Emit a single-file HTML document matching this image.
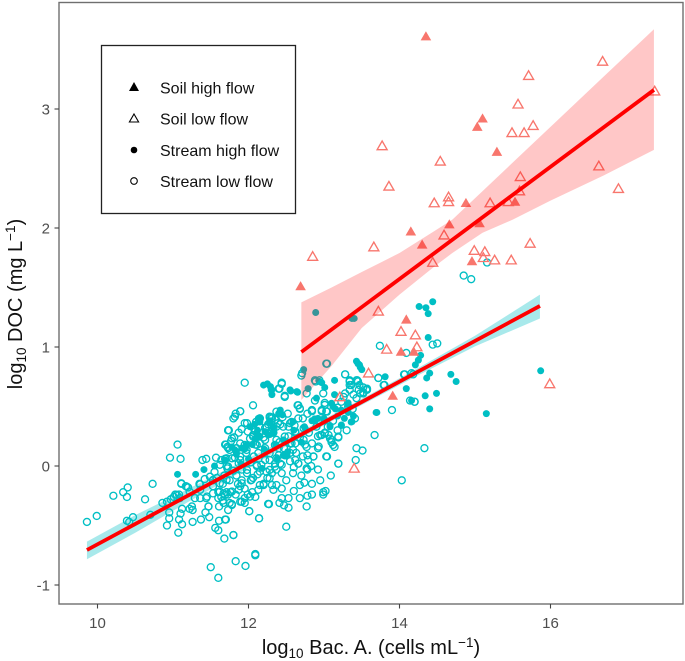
<!DOCTYPE html>
<html lang="en">
<head>
<meta charset="utf-8">
<title>DOC vs bacterial abundance</title>
<style>
html,body{margin:0;padding:0;background:#fff;}
svg{display:block;font-family:"Liberation Sans",Arial,sans-serif;}
</style>
</head>
<body>
<svg id="chart" width="685" height="661" viewBox="0 0 685 661" xmlns="http://www.w3.org/2000/svg">
  <rect x="0" y="0" width="685" height="661" fill="#fff"/>
  <g id="marks"></g>
  <g id="overlays"></g>
  <rect x="59" y="2.5" width="624" height="601.5" fill="none" stroke="#6f6f6f" stroke-width="1.4"/>
  <g id="axes"></g>
  <text x="371" y="654" text-anchor="middle" font-size="20" fill="#111">log<tspan font-size="13.500" dy="4">10</tspan><tspan dy="-4"> Bac. A. (cells mL</tspan><tspan font-size="13.500" dy="-7">−1</tspan><tspan dy="7">)</tspan></text>
  <text transform="translate(22,304) rotate(-90)" text-anchor="middle" font-size="20" fill="#111">log<tspan font-size="13.500" dy="4">10</tspan><tspan dy="-4"> DOC (mg L</tspan><tspan font-size="13.500" dy="-7">−1</tspan><tspan dy="7">)</tspan></text>
  <g>
    <rect x="101.5" y="45.5" width="194" height="168" fill="#fff" stroke="#222" stroke-width="1.3"/>
    <polygon points="134,82 139,91 129,91" fill="#000"/>
    <text x="160" y="93.500" font-size="16" fill="#111">Soil high flow</text>
    <polygon points="134,114 138.6,122 129.4,122" fill="none" stroke="#000" stroke-width="1.1"/>
    <text x="160" y="124.500" font-size="16" fill="#111">Soil low flow</text>
    <circle cx="134" cy="150" r="3.3" fill="#000"/>
    <text x="160" y="156" font-size="16" fill="#111">Stream high flow</text>
    <circle cx="134" cy="181" r="3.3" fill="none" stroke="#000" stroke-width="1.1"/>
    <text x="160" y="187" font-size="16" fill="#111">Stream low flow</text>
  </g>
</svg>
<script>
const xTicks = [10, 12, 14, 16];
const yTicks = [-1, 0, 1, 2, 3];

const soilHighFlow = [[14.35,3.61],[15.10,2.92],[15.03,2.85],[15.29,2.64],[14.88,2.21],[15.53,2.22],[12.69,1.51],[14.15,1.97],[14.66,2.03],[14.30,1.86],[15.06,2.04],[14.96,1.72],[14.09,1.23],[14.02,.96],[14.19,.96],[13.91,.59]];

const soilLowFlow = [[16.69,3.40],[15.71,3.28],[15.57,3.04],[13.77,2.69],[15.77,2.86],[15.49,2.80],[15.65,2.80],[17.38,3.15],[14.54,2.56],[16.64,2.52],[15.60,2.43],[16.90,2.33],[13.86,2.35],[15.59,2.31],[14.65,2.26],[14.65,2.22],[14.46,2.21],[15.20,2.21],[15.44,2.22],[12.85,1.76],[13.66,1.84],[14.59,1.94],[14.44,1.71],[15.73,1.87],[14.99,1.81],[15.13,1.80],[15.11,1.75],[15.26,1.73],[15.48,1.73],[13.72,1.30],[14.02,1.13],[14.21,1.10],[13.83,.98],[14.23,1.00],[13.59,.78],[15.99,.69],[13.21,.58],[13.40,-.02]];

const streamHighFlow = [[12.89,1.29],[13.37,1.24],[13.40,1.24],[14.26,1.34],[14.35,1.33],[14.44,1.38],[14.38,1.28],[14.38,1.08],[14.28,.93],[14.25,.89],[14.21,.85],[14.40,.78],[14.68,.77],[14.75,.71],[14.36,.74],[15.87,.80],[14.49,.61],[14.34,.59],[14.09,.65],[14.16,.55],[14.40,.48],[13.81,.75],[13.43,.88],[13.45,.86],[13.48,.83],[13.47,.85],[13.50,.81],[13.14,.72],[13.14,.60],[13.32,.53],[12.56,.63],[12.65,.62],[12.73,.81],[12.94,.71],[12.79,.65],[15.15,.44],[12.20,.68],[12.25,.69],[12.30,.64],[12.31,.60],[12.97,.70],[13.01,.66],[12.90,.57],[13.12,.50],[13.15,.48],[13.08,.34],[13.23,.34],[13.36,.37],[12.42,.47],[12.88,.39],[13.32,.45],[13.39,.42],[13.27,.40],[13.69,.45],[12.15,.40],[12.15,.37],[12.28,.38],[12.60,.30],[12.74,.33],[12.84,.38],[13.00,.40],[13.18,.42],[11.06,-.07],[11.30,-.07],[11.41,-.03],[11.55,.00],[11.69,.05],[11.82,.135],[11.84,.10],[11.95,.15],[12.09,.23],[12.15,.25],[12.26,.26],[12.40,.44],[12.05,.18],[12.12,.30],[12.21,.14],[12.33,.33],[12.46,.22],[12.52,.12],[12.38,.06],[12.70,.20],[11.90,.02],[12.00,.06],[12.18,-.02],[12.36,.18],[12.02,.33],[12.08,.35],[11.78,.16],[12.42,.457],[12.45,.43],[12.59,.373],[12.75,.317],[12.92,.40],[13.08,.33],[13.23,.345],[13.37,.373],[13.32,.513],[13.10,.527],[13.12,.50],[13.23,.47],[13.70,.45],[12.46,.09],[12.51,.09],[12.31,.64],[12.55,.64],[12.64,.625],[12.29,.667],[12.13,.40],[11.84,.12],[11.91,.15],[11.975,.177],[12.11,.275],[12.22,.289],[12.28,.36],[12.33,.275]];

const streamLowFlow = [[9.86,-.47],[9.99,-.42],[10.21,-.25],[10.34,-.22],[10.40,-.18],[10.39,-.26],[10.63,-.28],[10.73,-.15],[10.39,-.46],[10.42,-.47],[10.47,-.43],[10.70,-.41],[11.06,.18],[10.96,.07],[11.10,.06],[11.39,.05],[11.44,.06],[11.57,.07],[10.86,-.31],[10.92,-.30],[10.97,-.28],[11.03,-.24],[11.08,-.24],[11.11,-.15],[11.17,-.17],[11.20,-.18],[11.35,-.15],[11.29,-.27],[11.36,-.27],[11.44,-.27],[11.53,-.12],[11.53,-.17],[11.60,-.22],[11.64,-.26],[11.67,-.23],[11.73,-.24],[11.76,-.22],[11.78,-.32],[11.67,-.31],[11.61,-.34],[11.47,-.34],[11.43,-.39],[11.48,-.43],[11.37,-.45],[11.26,-.47],[11.22,-.36],[11.26,-.37],[11.12,-.36],[11.10,-.40],[11.08,-.45],[11.12,-.49],[11.07,-.56],[10.92,-.50],[10.95,-.44],[10.95,-.39],[11.61,-.46],[11.70,-.45],[11.56,-.52],[11.60,-.54],[11.68,-.61],[11.80,-.58],[11.73,-.37],[12.01,-.38],[12.14,-.44],[12.27,-.32],[11.50,-.85],[11.60,-.94],[11.83,-.80],[11.96,-.84],[12.09,-.75],[12.09,-.74],[11.95,.70],[12.06,.51],[11.89,.46],[11.83,.44],[11.80,.40],[11.95,.36],[12.15,.40],[12.14,.38],[12.30,.41],[11.74,.30],[11.81,.24],[11.70,.18],[11.73,.15],[11.77,.21],[12.44,.70],[12.41,.65],[12.48,.59],[12.65,.51],[12.68,.48],[12.84,.46],[13.01,.53],[12.97,.46],[13.03,.46],[13.28,.77],[13.03,.86],[12.71,.78],[12.70,.76],[12.88,.72],[12.94,.72],[13.34,.71],[13.43,.72],[13.36,.68],[13.34,.64],[13.39,.60],[13.43,.57],[13.52,.61],[13.56,.64],[13.72,.74],[13.79,.68],[13.74,1.01],[14.09,.95],[14.06,.77],[14.16,.78],[14.50,1.03],[14.44,1.02],[14.20,.54],[13.90,.47],[14.14,.55],[13.67,.26],[14.33,.15],[13.43,.15],[13.51,.13],[13.42,.05],[13.19,.02],[14.03,-.12],[13.09,-.08],[12.92,-.03],[13.03,.08],[13.19,.24],[13.14,.16],[13.10,.20],[13.08,.23],[13.01,.28],[12.97,.26],[12.92,.25],[12.92,.15],[12.86,.08],[12.78,.09],[12.72,.08],[12.78,-.03],[12.95,-.12],[12.84,-.15],[12.68,-.16],[12.99,-.22],[13.02,-.21],[12.99,-.24],[12.84,-.24],[12.78,-.25],[12.68,-.27],[12.77,-.34],[12.53,-.27],[12.53,-.35],[12.44,-.27],[12.41,-.31],[12.47,-.33],[12.27,-.32],[12.14,-.44],[12.50,-.51],[12.01,-.38],[11.80,-.58],[11.69,-.45],[14.85,1.60],[14.95,1.57],[15.16,1.71],[13.04,.86],[12.89,.71],[13.45,.71],[13.47,.68],[13.46,.64],[13.52,.66],[13.57,.64],[13.52,.62],[13.72,.74],[13.80,.68],[14.07,.77],[14.18,.77],[14.20,.54],[11.73,.30],[11.81,.24],[11.69,.18],[11.72,.16],[11.75,.135],[11.84,.15],[11.89,.19],[11.95,.15],[12.02,.23],[12.09,.29],[12.15,.40],[12.28,.41],[12.35,.39],[12.42,.35],[12.46,.33],[12.57,.37],[12.61,.34],[12.66,.40],[12.88,.39],[12.53,.25],[12.57,.19],[12.37,.22],[12.28,.27],[12.22,.32],[12.15,.33],[12.06,.26],[12.20,.24],[12.15,.19],[12.09,.18],[12.22,.15],[11.97,.11],[11.89,.05],[11.82,.07],[11.69,.06],[11.71,.00],[11.64,.05],[12.11,.00],[12.17,.01],[12.28,.05],[12.40,.09],[12.50,.09],[12.63,.11],[12.66,.02],[12.55,.04],[12.44,.01],[12.35,.02],[12.24,-.05],[12.31,-.06],[12.37,-.03],[12.44,-.06],[12.50,-.12],[12.59,-.06],[12.70,-.08],[12.06,-.10],[12.03,-.12],[11.91,-.12],[11.86,-.15],[11.75,-.12],[11.66,-.15],[11.89,-.17],[11.95,-.19],[11.66,-.29],[11.75,-.31],[11.89,-.30],[11.95,-.31],[12.09,-.26],[12.15,-.16],[12.20,-.15],[12.31,-.16],[12.33,-.20],[12.44,-.19],[12.60,-.21],[12.74,-.14],[12.05,-.22],[11.83,-.24],[11.80,-.04],[11.84,-.08],[11.91,-.03],[11.98,-.06],[12.03,.03],[12.07,.08],[12.13,.11],[11.99,.29],[11.91,.31],[11.87,.28],[12.10,.37],[12.26,.35],[12.33,.28],[12.41,.20],[12.47,.15],[12.55,.11],[12.62,.19],[12.68,.24],[12.75,.18],[12.80,.28],[12.45,.41],[12.52,.44],[12.72,.40],[12.78,.44],[12.92,.38],[13.05,.33],[13.12,.38],[13.18,.49],[13.23,.54],[13.26,.58],[13.32,.50],[13.38,.48],[13.41,.40],[13.30,.30],[13.18,.30],[12.90,.33],[12.62,.28],[11.62,.01],[11.55,-.05],[11.49,-.09],[11.42,-.11],[11.58,-.10],[11.68,-.08],[11.72,-.02],[12.25,-.10],[12.12,-.07],[12.83,.00],[12.60,-.01],[11.99,-.24],[11.71,-.22],[11.89,.46],[11.82,.415],[11.98,.36],[12.28,.415],[12.37,.457],[11.73,.30],[12.24,.33],[12.33,.317],[12.39,.36],[11.78,.233],[11.84,.149],[11.95,.177],[11.975,.135],[12.11,.177],[12.22,.219],[12.06,.247],[11.71,.065],[11.78,.065],[11.87,.023],[11.73,-.005],[11.89,.079],[11.98,-.033],[12.11,.009],[12.22,.05],[12.28,.107],[12.37,.065],[12.15,-.047],[12.28,-.033],[12.35,-.005],[12.04,-.117],[11.91,-.145],[11.87,-.20],[11.95,-.27],[12.02,-.257],[12.13,-.20],[12.20,-.16],[12.28,-.103],[12.37,-.16],[11.78,-.215],[11.71,-.117],[11.62,-.145],[11.53,-.117],[11.62,-.215],[11.69,-.243],[11.53,-.23],[11.45,-.257],[11.36,-.20],[11.22,-.215],[11.18,-.173],[11.11,-.145],[11.36,-.154],[11.60,-.27],[11.78,-.327],[11.47,-.34],[12.26,-.319],[11.05,-.243],[11.01,-.26],[11.09,-.27],[11.25,-.34],[11.91,-.30],[12.44,.69],[12.40,.65],[12.48,.58],[12.77,.61],[12.99,.61],[12.88,.55],[12.66,.51],[12.68,.485],[12.84,.47],[13.01,.513],[12.97,.47],[13.04,.457],[13.34,.72],[13.28,.77],[13.44,.72],[13.34,.68],[13.57,.65],[13.48,.61],[13.28,.61],[12.55,.36],[12.62,.29],[12.31,.40],[12.37,.33],[12.31,.29],[12.48,.247],[12.53,.33],[12.73,.317],[12.73,.22],[12.77,.16],[12.84,.19],[12.93,.163],[12.95,.26],[13.01,.275],[13.06,.26],[13.19,.247],[13.10,.22],[13.12,.177],[13.04,.079],[12.86,.079],[12.79,.05],[12.77,-.02],[12.62,.05],[12.66,.02],[13.19,.02],[12.35,.177],[12.55,.19],[12.40,.15],[12.59,.135],[12.48,.09],[12.42,.02]];

const streamFitX = [9.86, 15.86];
const streamFitY = [-.706, 1.345];
const streamBandX = [9.86, 10.5, 11.2, 12, 12.7, 13.4, 14.2, 15, 15.86];
const streamBandHigh = [-.636, -.413, -.193, .065, .293, .529, .807, 1.095, 1.44];
const streamBandLow = [-.784, -.561, -.303, -.015, .237, .479, .747, 1.005, 1.24];

const soilFitX = [12.70, 17.37];
const soilFitY = [.958, 3.16];
const soilBandX = [12.70, 13.1, 13.5, 14.0, 14.45, 14.7, 15.1, 15.5, 16.0, 16.7, 17.37];
const soilBandHigh = [1.375, 1.50, 1.63, 1.79, 1.97, 2.07, 2.31, 2.55, 2.85, 3.27, 3.67];
const soilBandLow = [.555, .84, 1.16, 1.44, 1.67, 1.79, 1.96, 2.07, 2.23, 2.44, 2.656];

const xScale = v => 97.5 + (v - 10) * 75.5;
const yScale = v => 466 - v * 119;

const NS = 'http://www.w3.org/2000/svg';
const marks = document.getElementById('marks');
const overlays = document.getElementById('overlays');
const axes = document.getElementById('axes');

function make(tag, attrs, parent) {
  const el = document.createElementNS(NS, tag);
  for (const k in attrs) el.setAttribute(k, attrs[k]);
  parent.appendChild(el);
  return el;
}
function trianglePoints(cx, cy, half) {
  return `${cx},${cy - half * 0.98} ${cx + half},${cy + half * 0.75} ${cx - half},${cy + half * 0.75}`;
}

const SOIL = '#F8766D';
const STREAM = '#00BFC4';

streamLowFlow.forEach(p => {
  const el = make('circle', {cx: xScale(p[0]), cy: yScale(p[1]), r: 3.5, fill: 'none', stroke: STREAM, 'stroke-width': 1.35}, marks);
  
  
});
streamHighFlow.forEach(p => {
  const el = make('circle', {cx: xScale(p[0]), cy: yScale(p[1]), r: 3.5, fill: STREAM}, marks);
  
  
});
soilLowFlow.forEach(p => {
  const el = make('polygon', {points: trianglePoints(xScale(p[0]), yScale(p[1]), 5), fill: 'none', stroke: SOIL, 'stroke-width': 1.35}, marks);
  
  
});
soilHighFlow.forEach(p => {
  const el = make('polygon', {points: trianglePoints(xScale(p[0]), yScale(p[1]), 5.3), fill: SOIL}, marks);
  
  
});

function bandPath(xs, hi, lo) {
  const up = xs.map((v, i) => `${xScale(v)},${yScale(hi[i])}`);
  const down = xs.map((v, i) => `${xScale(v)},${yScale(lo[i])}`).reverse();
  return up.concat(down).join(' ');
}
const streamBand = make('polygon', {points: bandPath(streamBandX, streamBandHigh, streamBandLow), fill: 'rgba(0,191,196,0.34)'}, overlays);


const soilBand = make('polygon', {points: bandPath(soilBandX, soilBandHigh, soilBandLow), fill: 'rgba(255,0,0,0.22)'}, overlays);


const streamLine = make('line', {x1: xScale(streamFitX[0]), y1: yScale(streamFitY[0]), x2: xScale(streamFitX[1]), y2: yScale(streamFitY[1]), stroke: '#f00', 'stroke-width': 3.8}, overlays);


const soilLine = make('line', {x1: xScale(soilFitX[0]), y1: yScale(soilFitY[0]), x2: xScale(soilFitX[1]), y2: yScale(soilFitY[1]), stroke: '#f00', 'stroke-width': 3.8}, overlays);



xTicks.forEach(v => {
  const mark = make('line', {x1: xScale(v), x2: xScale(v), y1: 604, y2: 608.5, stroke: '#444', 'stroke-width': 1.1}, axes);
  
  
  const label = make('text', {x: xScale(v), y: 628, 'text-anchor': 'middle', 'font-size': 15, fill: '#4d4d4d'}, axes);
  label.textContent = v;
  
  
});
yTicks.forEach(v => {
  const mark = make('line', {x1: 54.5, x2: 59, y1: yScale(v), y2: yScale(v), stroke: '#444', 'stroke-width': 1.1}, axes);
  
  
  const label = make('text', {x: 50, y: yScale(v) + 5.5, 'text-anchor': 'end', 'font-size': 15, fill: '#4d4d4d'}, axes);
  label.textContent = v;
  
  
});
</script>
</body>
</html>
